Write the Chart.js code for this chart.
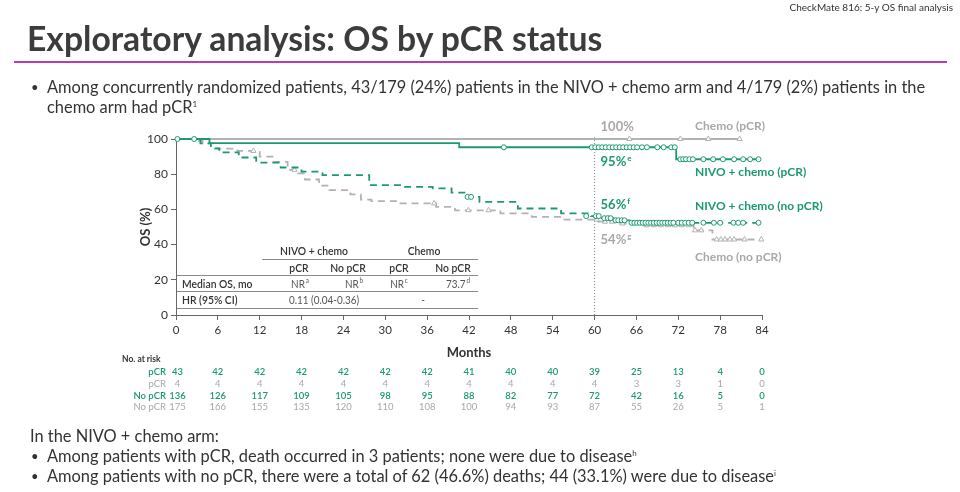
<!DOCTYPE html>
<html>
<head>
<meta charset="utf-8">
<script src="https://cdn.jsdelivr.net/npm/chart.js@4.4.1/dist/chart.umd.min.js"></script>
<style>
  html, body { margin: 0; padding: 0; background: #fff; }
  #page { position: relative; width: 960px; height: 492px; overflow: hidden; font-family: Lato, "Open Sans", sans-serif; color: #333; }
  #km { position: absolute; left: 0; top: 0; }
  .txt { position: absolute; white-space: nowrap; }
  #tag { right: 7px; top: 0px; font-size: 10px; line-height: 14px; color: #333; }
  #title { left: 27px; top: 19px; font-size: 34px; line-height: 38px; font-weight: bold; color: #3c3c3c; transform-origin: left top; transform: scaleX(0.99); }
  #rule { position: absolute; left: 14px; top: 61px; width: 933px; height: 2px; background: #b63db6; }
  .body { font-size: 16.4px; line-height: 20px; color: #333; }
  .bul { font-size: 13px; }
  sup { font-size: 8px; vertical-align: 6px; line-height: 0; }
</style>
</head>
<body>
<div id="page">
  <canvas id="km" width="960" height="492"></canvas>
  <div class="txt" id="tag">CheckMate 816: 5-y OS final analysis</div>
  <div class="txt" id="title">Exploratory analysis: OS by pCR status</div>
  <div id="rule"></div>
  <div class="txt body bul" style="left:31px; top:77px;">•</div>
  <div class="txt body" style="left:47px; top:77px;">Among concurrently randomized patients, 43/179 (24%) patients in the NIVO + chemo arm and 4/179 (2%) patients in the<br>chemo arm had pCR<sup>1</sup></div>
  <div class="txt body" style="left:30px; top:426px;">In the NIVO + chemo arm:</div>
  <div class="txt body bul" style="left:31px; top:446px;">•</div>
  <div class="txt body" style="left:47px; top:446px;">Among patients with pCR, death occurred in 3 patients; none were due to disease<sup>h</sup></div>
  <div class="txt body bul" style="left:31px; top:466px;">•</div>
  <div class="txt body" style="left:47px; top:466px;">Among patients with no pCR, there were a total of 62 (46.6%) deaths; 44 (33.1%) were due to disease<sup>i</sup></div>
</div>
<script>
// x axis ticks (months) and numbers at risk
const riskMonths = [0, 6, 12, 18, 24, 30, 36, 42, 48, 54, 60, 66, 72, 78, 84];
const riskNivoPcr = [43, 42, 42, 42, 42, 42, 42, 41, 40, 40, 39, 25, 13, 4, 0];
const riskChemoPcr = [4, 4, 4, 4, 4, 4, 4, 4, 4, 4, 4, 3, 3, 1, 0];
const riskNivoNoPcr = [136, 126, 117, 109, 105, 98, 95, 88, 82, 77, 72, 42, 16, 5, 0];
const riskChemoNoPcr = [175, 166, 155, 135, 120, 110, 108, 100, 94, 93, 87, 55, 26, 5, 1];

// KM step curves: event times (months) and OS (%)
const nivoPcrT = [0, 4.8, 40.6, 71.7, 83.7];
const nivoPcrS = [100, 97.7, 95.3, 88.5, 88.5];
const nivoNoPcrT = [0, 3.5, 5, 6.2, 9, 11.5, 15, 18, 21, 27.7, 32.8, 36.8, 39.5, 41.5, 43.5, 49, 55.2, 59.5, 60.8, 62.7, 65, 83.8];
const nivoNoPcrS = [100, 97.5, 94.7, 92.4, 89.5, 86.6, 83.8, 81.5, 79.5, 73.8, 72.8, 71.9, 69.5, 67.1, 64.3, 60.5, 57.7, 56.2, 55, 53.8, 52.4, 52.4];
const chemoPcrT = [0, 80.8];
const chemoPcrS = [100, 100];
const chemoNoPcrT = [0, 2.5, 3.8, 5.6, 8.8, 12, 14, 16, 17.5, 18.5, 20.5, 22, 25, 26.5, 28, 32, 37.3, 40, 46.5, 51, 55.5, 60.5, 63, 67, 74.2, 76.9, 84];
const chemoNoPcrS = [100, 99, 97.5, 94.5, 93.2, 90, 87, 82.5, 80.5, 77, 73.5, 71, 68.5, 65.5, 64.7, 63.4, 61.4, 59.5, 57.7, 55.7, 54.2, 53, 52, 51, 48.1, 42.9, 42.9];

// censored observations
const nivoPcrCensT = [47, 59.6, 60.1, 60.6, 61.1, 61.6, 62.1, 62.6, 63.1, 63.6, 64.1, 64.6, 65.1, 65.6, 66.1, 66.8, 67.5, 69.0, 69.9, 71.0, 71.5, 72.3, 72.7, 73.1, 73.6, 74.1, 75.6, 77.0, 78.4, 80.0, 81.3, 82.3, 83.5];
const nivoPcrCensS = [95.3, 95.3, 95.3, 95.3, 95.3, 95.3, 95.3, 95.3, 95.3, 95.3, 95.3, 95.3, 95.3, 95.3, 95.3, 95.3, 95.3, 95.3, 95.3, 95.3, 95.3, 88.5, 88.5, 88.5, 88.5, 88.5, 88.5, 88.5, 88.5, 88.5, 88.5, 88.5, 88.5];
const nivoNoPcrCensT = [0.2, 2.6, 41.8, 42.3, 58.8, 60.2, 60.6, 61.4, 61.9, 62.3, 63.0, 63.4, 63.9, 64.3, 65.3, 65.7, 66.1, 66.5, 66.9, 67.3, 67.7, 68.1, 68.5, 68.9, 69.3, 69.7, 70.1, 70.5, 70.9, 71.3, 72.0, 72.5, 73.0, 73.5, 74.0, 75.6, 77.1, 78.0, 79.9, 80.6, 81.3, 83.5];
const nivoNoPcrCensS = [100, 100, 67.1, 67.1, 56.2, 56.2, 56.2, 55, 55, 55, 53.8, 53.8, 53.8, 53.8, 52.4, 52.4, 52.4, 52.4, 52.4, 52.4, 52.4, 52.4, 52.4, 52.4, 52.4, 52.4, 52.4, 52.4, 52.4, 52.4, 52.4, 52.4, 52.4, 52.4, 52.4, 52.4, 52.4, 52.4, 52.4, 52.4, 52.4, 52.4];
const chemoPcrCensT = [65, 72.3, 76.3, 80.8];
const chemoPcrCensS = [100, 100, 100, 100];
const chemoNoPcrCensT = [11.1, 17, 37, 41.9, 44.8, 60.3, 61.5, 62.5, 64, 65.5, 67.5, 68.5, 69.5, 70.5, 71.5, 72.5, 73.5, 74.4, 75.3, 77.5, 78.1, 78.7, 79.4, 80, 81.5, 83.9];
const chemoNoPcrCensS = [93.2, 82.5, 63.4, 59.5, 59.5, 54.2, 53, 53, 52, 52, 51, 51, 51, 51, 51, 51, 51, 48.1, 48.1, 42.9, 42.9, 42.9, 42.9, 42.9, 42.9, 42.9];

const green = '#1c9a6e';
const grey = '#b2b2b2';
const greyText = '#a8a8a8';
const chartFont = 'Lato, "Open Sans", sans-serif';

function pts(t, s) {
  return t.map(function (x, i) { return { x: x, y: s[i] }; });
}

function lineSet(t, s, color, dash) {
  return {
    data: pts(t, s), borderColor: color, borderWidth: 1.8, borderDash: dash,
    stepped: true, pointRadius: 0, fill: false
  };
}

function censorSet(t, s, color, style) {
  return {
    data: pts(t, s), showLine: false, borderColor: color, backgroundColor: '#fff',
    pointStyle: style, pointRadius: style === 'triangle' ? 3 : 2.5, pointBorderWidth: 1
  };
}

// draws base text plus a small raised superscript; sx squeezes it horizontally
function supText(ctx, text, sup, x, y, size, weight, align, sx) {
  sx = sx || 1;
  ctx.font = weight + ' ' + size + 'px ' + chartFont;
  var w1 = ctx.measureText(text).width;
  ctx.font = weight + ' ' + Math.round(size * 0.6) + 'px ' + chartFont;
  var w2 = sup ? ctx.measureText(sup).width + 1 : 0;
  var total = (w1 + w2) * sx;
  var start = x;
  if (align === 'center') start = x - total / 2;
  if (align === 'right') start = x - total;
  ctx.save();
  ctx.translate(start, y);
  ctx.scale(sx, 1);
  ctx.textAlign = 'left';
  ctx.font = weight + ' ' + size + 'px ' + chartFont;
  ctx.fillText(text, 0, 0);
  if (sup) {
    ctx.font = weight + ' ' + Math.round(size * 0.6) + 'px ' + chartFont;
    ctx.fillText(sup, w1 + 1, -size * 0.3);
  }
  ctx.restore();
}

const overlay = {
  id: 'overlay',
  afterDraw: function (chart) {
    var ctx = chart.ctx, xs = chart.scales.x, ys = chart.scales.y;
    var i;
    ctx.save();
    ctx.textBaseline = 'middle';

    // axis titles
    ctx.fillStyle = '#333';
    ctx.font = 'bold 13px ' + chartFont;
    ctx.textAlign = 'center';
    ctx.fillText('Months', xs.getPixelForValue(42), 353);
    ctx.save();
    ctx.translate(146, ys.getPixelForValue(50));
    ctx.rotate(-Math.PI / 2);
    ctx.fillText('OS (%)', 0, 0);
    ctx.restore();

    // curve labels
    var px60 = xs.getPixelForValue(60) + 6;
    var pxLab = xs.getPixelForValue(74.4);
    ctx.fillStyle = greyText;
    supText(ctx, '100%', '', px60, ys.getPixelForValue(106.8), 13, 'bold', 'left');
    supText(ctx, 'Chemo (pCR)', '', pxLab, ys.getPixelForValue(107.3), 12, 'bold', 'left');
    supText(ctx, '54%', 'g', px60, ys.getPixelForValue(42.5), 13, 'bold', 'left');
    supText(ctx, 'Chemo (no pCR)', '', pxLab, ys.getPixelForValue(32.8), 12, 'bold', 'left');
    ctx.fillStyle = green;
    supText(ctx, '95%', 'e', px60, ys.getPixelForValue(87), 13, 'bold', 'left');
    supText(ctx, 'NIVO + chemo (pCR)', '', pxLab, ys.getPixelForValue(81.2), 12, 'bold', 'left');
    supText(ctx, '56%', 'f', px60, ys.getPixelForValue(62.4), 13, 'bold', 'left');
    supText(ctx, 'NIVO + chemo (no pCR)', '', pxLab, ys.getPixelForValue(61.8), 12, 'bold', 'left');

    // inset table
    var L = 177, R = 478, sq = 0.9;
    ctx.strokeStyle = '#8a8a8a';
    ctx.lineWidth = 1;
    [[262, 259.5], [L, 275.5], [L, 291.5], [L, 308.5]].forEach(function (r) {
      ctx.beginPath(); ctx.moveTo(r[0], r[1]); ctx.lineTo(R, r[1]); ctx.stroke();
    });
    ctx.fillStyle = '#333';
    supText(ctx, 'NIVO + chemo', '', 314, 251, 11.5, '600', 'center', sq);
    supText(ctx, 'Chemo', '', 424, 251, 11.5, '600', 'center', sq);
    supText(ctx, 'pCR', '', 299, 268, 11.5, '600', 'center', sq);
    supText(ctx, 'No pCR', '', 348, 268, 11.5, '600', 'center', sq);
    supText(ctx, 'pCR', '', 399, 268, 11.5, '600', 'center', sq);
    supText(ctx, 'No pCR', '', 453, 268, 11.5, '600', 'center', sq);
    supText(ctx, 'Median OS, mo', '', 182, 284, 11.5, '600', 'left', sq);
    supText(ctx, 'HR (95% CI)', '', 182, 300, 11.5, '600', 'left', sq);
    ctx.fillStyle = '#555';
    supText(ctx, 'NR', 'a', 300, 284, 11, 'normal', 'center', sq);
    supText(ctx, 'NR', 'b', 354, 284, 11, 'normal', 'center', sq);
    supText(ctx, 'NR', 'c', 399, 284, 11, 'normal', 'center', sq);
    supText(ctx, '73.7', 'd', 458, 284, 11, 'normal', 'center', sq);
    supText(ctx, '0.11 (0.04-0.36)', '', 324, 300, 11, 'normal', 'center', sq);
    supText(ctx, '-', '', 423, 300, 11, 'normal', 'center', sq);

    // numbers at risk
    ctx.fillStyle = '#333';
    supText(ctx, 'No. at risk', '', 122, 359, 8.5, 'bold', 'left');
    var rows = [
      [riskNivoPcr, 'pCR', green, 372, '600'],
      [riskChemoPcr, 'pCR', greyText, 383.5, 'normal'],
      [riskNivoNoPcr, 'No pCR', green, 395.5, '600'],
      [riskChemoNoPcr, 'No pCR', greyText, 407, 'normal']
    ];
    rows.forEach(function (r) {
      ctx.fillStyle = r[2];
      supText(ctx, r[1], '', 166, r[3], 9.5, r[4], 'right');
      for (i = 0; i < riskMonths.length; i++) {
        supText(ctx, String(r[0][i]), '', xs.getPixelForValue(riskMonths[i]) + (i === 0 ? 1.5 : 0), r[3], 9.5, r[4], 'center');
      }
    });
    ctx.restore();
  }
};

new Chart(document.getElementById('km'), {
  type: 'line',
  data: {
    datasets: [
      censorSet(nivoPcrCensT, nivoPcrCensS, green, 'circle'),
      censorSet(nivoNoPcrCensT, nivoNoPcrCensS, green, 'circle'),
      lineSet(nivoPcrT, nivoPcrS, green, []),
      lineSet(nivoNoPcrT, nivoNoPcrS, green, [7, 5]),
      censorSet(chemoPcrCensT, chemoPcrCensS, grey, 'triangle'),
      censorSet(chemoNoPcrCensT, chemoNoPcrCensS, grey, 'triangle'),
      lineSet(chemoPcrT, chemoPcrS, grey, []),
      lineSet(chemoNoPcrT, chemoNoPcrS, grey, [7, 5]),
      { data: [{ x: 60, y: 0 }, { x: 60, y: 101 }], borderColor: '#888', borderWidth: 1, borderDash: [1, 2], pointRadius: 0 }
    ]
  },
  options: {
    responsive: false,
    animation: false,
    clip: false,
    layout: { padding: { left: 138, top: 139, right: 198, bottom: 0 } },
    plugins: { legend: { display: false }, tooltip: { enabled: false } },
    scales: {
      x: {
        type: 'linear', min: 0, max: 84,
        afterFit: function (s) { s.height = 177; },
        ticks: { stepSize: 6, color: '#333', padding: 3, font: { family: chartFont, size: 11.5 } },
        grid: { drawOnChartArea: false, tickLength: 5, color: '#666' },
        border: { color: '#666' }
      },
      y: {
        min: 0, max: 100,
        afterFit: function (s) { s.width = 38; },
        ticks: { stepSize: 20, color: '#333', padding: 3, font: { family: chartFont, size: 12 } },
        grid: { drawOnChartArea: false, tickLength: 5, color: '#666' },
        border: { color: '#666' }
      }
    }
  },
  plugins: [overlay]
});
</script>
</body>
</html>
